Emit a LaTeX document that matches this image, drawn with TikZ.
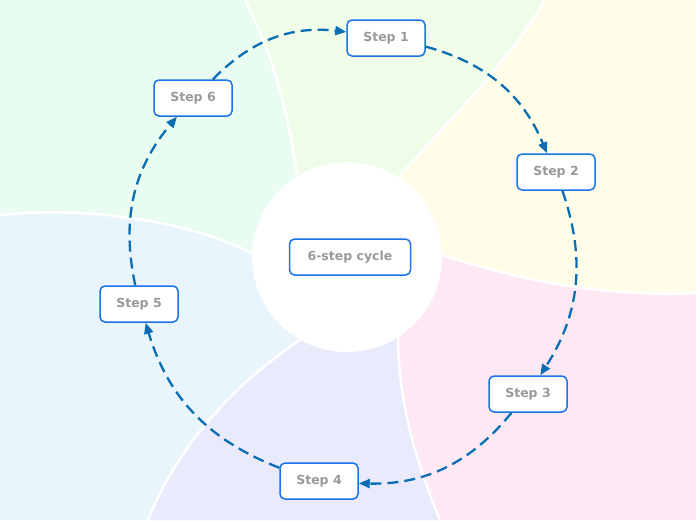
\documentclass[tikz,border=0pt]{standalone}
\usepackage{fontspec}
\setmainfont{DejaVu Sans}
\usetikzlibrary{arrows.meta}
\definecolor{cgreen}{HTML}{EEFCE8}
\definecolor{cyellow}{HTML}{FFFDE8}
\definecolor{cpink}{HTML}{FDE8F3}
\definecolor{clav}{HTML}{E9EAFC}
\definecolor{cblue}{HTML}{E8F5FD}
\definecolor{cmint}{HTML}{E8FCF2}
\definecolor{edge}{HTML}{1A73E8}
\definecolor{txt}{HTML}{999999}
\definecolor{arr}{HTML}{0A6EB4}
\tikzset{
 stepbox/.style={draw=edge,line width=1.5pt,fill=white,rounded corners=5pt,minimum width=78pt,minimum height=36pt,text=txt,font=\fontsize{12.5}{14}\selectfont\bfseries},
 conn/.style={draw=arr,line width=2.3pt,dash pattern=on 11pt off 6pt,-{Triangle[length=11pt,width=9pt]},bend left=26},
 sep/.style={white,line width=2.5pt}
}
\begin{document}
\begin{tikzpicture}[x=1pt,y=-1pt]
\useasboundingbox (0,0) rectangle (696,520);
% regions
\fill[cgreen] (347,257) -- (297,175) .. controls (285,90) and (265,40) .. (245,0) -- (545,0) .. controls (510,60) and (450,120) .. (400,175) -- cycle;
\fill[cyellow] (347,257) -- (400,175) .. controls (450,120) and (510,60) .. (545,0) -- (696,0) -- (696,293) .. controls (600,297) and (520,280) .. (442,255) -- cycle;
\fill[cpink] (347,257) -- (442,255) .. controls (520,280) and (600,297) .. (696,293) -- (696,520) -- (440,520) .. controls (415,460) and (398,400) .. (398,335) -- cycle;
\fill[clav] (347,257) -- (398,335) .. controls (398,400) and (415,460) .. (440,520) -- (148,520) .. controls (180,440) and (240,380) .. (300,340) -- cycle;
\fill[cblue] (347,257) -- (300,340) .. controls (240,380) and (180,440) .. (148,520) -- (0,520) -- (0,215) .. controls (100,205) and (200,225) .. (255,255) -- cycle;
\fill[cmint] (347,257) -- (255,255) .. controls (200,225) and (100,205) .. (0,215) -- (0,0) -- (245,0) .. controls (265,40) and (285,90) .. (297,175) -- cycle;
% separators
\draw[sep] (297,175) .. controls (285,90) and (265,40) .. (245,0);
\draw[sep] (400,175) .. controls (450,120) and (510,60) .. (545,0);
\draw[sep] (442,255) .. controls (520,280) and (600,297) .. (696,293);
\draw[sep] (398,335) .. controls (398,400) and (415,460) .. (440,520);
\draw[sep] (300,340) .. controls (240,380) and (180,440) .. (148,520);
\draw[sep] (255,255) .. controls (200,225) and (100,205) .. (0,215);
\fill[white] (347,257) circle (95);
% nodes
\node[stepbox,minimum width=121pt] (c) at (350,257) {6-step cycle};
\node[stepbox] (s1) at (386,38) {Step 1};
\node[stepbox] (s2) at (556,172) {Step 2};
\node[stepbox] (s3) at (528,394) {Step 3};
\node[stepbox] (s4) at (319,481) {Step 4};
\node[stepbox] (s5) at (139,304) {Step 5};
\node[stepbox] (s6) at (193,98) {Step 6};
\draw[conn] (s1) to (s2);
\draw[conn] (s2) to (s3);
\draw[conn] (s3) to (s4);
\draw[conn] (s4) to (s5);
\draw[conn] (s5) to (s6);
\draw[conn] (s6) to (s1);
\end{tikzpicture}
\end{document}
